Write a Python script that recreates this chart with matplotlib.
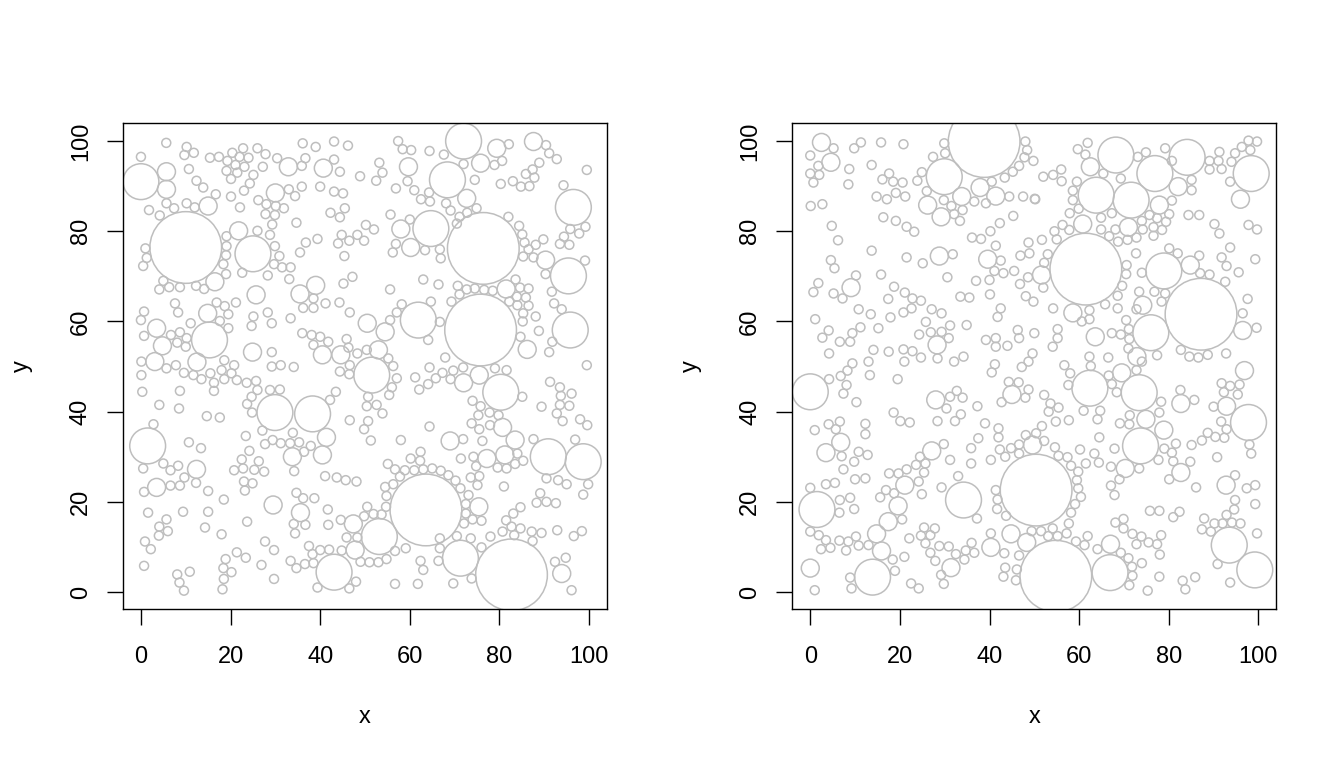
import numpy as np
import matplotlib.pyplot as plt

plt.rcParams["font.family"] = ["Liberation Sans", "DejaVu Sans"]

# circle centres, grouped by radius (data units)
left_r8 = [(10.0, 76.4), (76.4, 76.2), (75.8, 58.1), (63.6, 18.2), (82.7, 3.8)]

left_r4 = [(0.0, 91.0), (25.0, 75.0), (15.3, 55.9), (72.0, 100.0), (68.4, 91.4),
           (96.5, 85.3), (64.7, 80.6), (95.4, 70.1), (61.9, 60.3), (95.8, 58.1),
           (1.5, 32.4), (29.9, 39.8), (38.3, 39.5), (43.1, 4.4), (51.5, 48.1),
           (80.3, 44.3), (90.9, 30.0), (98.7, 28.9), (53.2, 12.3), (71.3, 7.5)]

left_r2 = [(5.7, 93.2), (5.7, 89.3), (15.0, 85.6), (30.0, 88.5), (32.9, 94.3),
           (40.7, 94.0), (21.8, 80.1), (16.5, 68.8), (25.7, 65.9), (39.0, 68.0),
           (35.5, 66.1), (50.5, 59.6), (14.9, 61.8), (3.5, 58.5), (4.8, 54.6),
           (3.1, 51.1), (12.5, 51.0), (24.9, 53.2), (44.6, 52.6), (40.5, 52.6),
           (79.4, 98.4), (87.6, 99.9), (75.8, 95.1), (59.7, 94.3), (72.7, 87.3),
           (58.0, 80.5), (60.2, 76.4), (90.3, 73.6), (81.5, 67.2), (54.5, 57.7),
           (53.0, 53.7), (86.2, 53.8), (3.5, 23.2), (12.4, 27.2), (41.4, 34.3),
           (40.5, 30.4), (33.8, 30.0), (29.5, 19.3), (35.6, 17.6), (47.8, 9.3),
           (47.4, 15.1), (72.0, 46.4), (75.5, 48.1), (80.7, 36.5), (83.5, 33.7),
           (81.2, 30.4), (77.2, 29.6), (69.0, 33.5), (75.4, 18.9), (93.9, 4.1)]

left_r1 = [
    (5.65, 99.6), (0.0, 96.5), (10.2, 98.7), (9.7, 96.9), (11.8, 97.4), (10.7, 93.8),
    (15.4, 96.3), (17.4, 96.5), (19.3, 95.6), (20.4, 97.4), (22.0, 96.5), (22.8, 98.4),
    (24.0, 96.3), (21.1, 94.7), (19.1, 93.4), (21.5, 93.0), (23.1, 94.3), (20.1, 91.6),
    (25.1, 92.5), (24.3, 90.6), (23.0, 89.0), (26.0, 98.4), (27.8, 97.1), (27.2, 94.3),
    (30.4, 96.2), (36.1, 99.5), (39.0, 98.7), (43.1, 99.9), (46.2, 99.0), (43.1, 95.9),
    (44.4, 93.2), (48.9, 92.2), (35.9, 94.5), (36.7, 96.2), (35.9, 89.9), (34.4, 87.8),
    (33.0, 89.3), (40.0, 89.9), (43.1, 88.8), (45.1, 88.4), (45.5, 85.1), (42.3, 84.1),
    (44.4, 83.1), (34.7, 81.9), (12.4, 91.2), (13.9, 89.7), (16.7, 88.2), (20.1, 87.7),
    (22.1, 85.3), (26.2, 86.9), (28.0, 86.0), (30.1, 85.6), (31.9, 85.1), (27.8, 83.8),
    (29.9, 83.6), (29.3, 81.5), (28.8, 79.2), (26.0, 80.1), (1.8, 84.7), (4.2, 83.5),
    (5.7, 86.2), (7.4, 85.1), (10.2, 86.2), (12.0, 85.3), (19.1, 78.9), (19.1, 76.7),
    (19.0, 74.7), (18.4, 72.7), (19.0, 70.5), (1.0, 76.2), (1.3, 74.1), (0.5, 72.3),
    (5.0, 69.0), (4.1, 67.1), (6.3, 67.6), (8.7, 67.6), (12.3, 67.9), (14.1, 67.2),
    (22.6, 70.8), (28.3, 70.2), (29.9, 76.7), (30.9, 74.5), (29.7, 72.7), (31.5, 72.0),
    (33.4, 72.0), (33.1, 69.4), (35.5, 75.3), (36.8, 77.5), (39.4, 78.3), (44.0, 77.3),
    (44.8, 79.2), (46.5, 77.9), (48.3, 79.2), (49.8, 77.9), (50.2, 81.4), (45.4, 74.5),
    (47.2, 69.9), (45.2, 68.4), (38.5, 65.1), (38.5, 63.0), (36.2, 63.0), (41.2, 64.0),
    (44.3, 64.2), (46.6, 62.0), (7.6, 64.0), (8.3, 62.0), (0.7, 62.2), (0.0, 60.3),
    (0.7, 56.8), (11.1, 59.6), (6.7, 57.0), (8.7, 57.6), (8.1, 55.3), (10.0, 54.4),
    (10.2, 56.3), (16.9, 64.2), (18.7, 63.4), (19.5, 61.6), (17.6, 60.1), (21.2, 64.2),
    (19.5, 58.5), (25.1, 61.1), (24.7, 59.0), (28.3, 62.0), (29.2, 59.6), (33.4, 60.7),
    (36.0, 57.4), (38.1, 57.0), (40.0, 56.6), (41.8, 55.5), (38.5, 54.8), (45.9, 56.1),
    (46.3, 54.2), (48.3, 52.9), (50.4, 53.7), (29.2, 53.2), (18.6, 51.4),
    (57.4, 100.0), (58.4, 98.2), (60.3, 98.0), (64.4, 97.8), (67.6, 97.0), (53.2, 95.2),
    (53.9, 93.0), (52.5, 91.2), (56.9, 89.5), (59.5, 91.1), (61.0, 89.1), (62.5, 87.1),
    (64.3, 88.6), (64.5, 86.6), (68.1, 86.2), (69.1, 84.6), (71.1, 83.2), (72.8, 84.1),
    (74.9, 85.1), (70.5, 81.7), (74.5, 91.4), (72.0, 94.9), (78.9, 94.7), (80.6, 95.6),
    (82.1, 99.3), (90.4, 99.1), (91.1, 97.3), (92.8, 96.0), (88.9, 95.2), (87.4, 93.7),
    (85.9, 92.7), (87.8, 91.9), (86.7, 90.0), (84.8, 89.9), (83.0, 91.1), (80.3, 90.5),
    (99.5, 93.6), (94.3, 90.2), (55.7, 83.7), (60.0, 82.6), (52.0, 80.4), (56.9, 77.2),
    (56.2, 75.3), (63.4, 75.8), (66.7, 76.0), (66.9, 74.0), (82.0, 83.2), (84.4, 81.2),
    (85.1, 79.3), (85.6, 77.5), (85.3, 74.4), (87.6, 74.2), (86.5, 76.0), (88.1, 77.0),
    (89.8, 78.2), (93.5, 77.2), (95.6, 77.0), (94.4, 78.8), (95.8, 80.5), (97.8, 79.5),
    (99.2, 81.0), (99.1, 73.5), (90.3, 70.5), (91.7, 66.6), (92.2, 64.0), (93.9, 62.7),
    (91.8, 55.5), (91.1, 53.2), (63.0, 69.3), (66.4, 68.2), (55.6, 67.1), (70.7, 67.9),
    (72.7, 67.1), (74.5, 67.3), (76.6, 67.0), (78.5, 66.8), (71.1, 66.0), (69.3, 64.4),
    (83.6, 69.3), (84.6, 67.5), (86.5, 67.3), (83.9, 65.5), (85.9, 65.3), (82.2, 64.4),
    (84.0, 63.6), (86.5, 63.5), (85.3, 61.8), (85.2, 60.0), (88.1, 61.1), (88.8, 57.9),
    (84.7, 56.6), (64.7, 64.4), (58.2, 63.8), (57.1, 62.0), (55.6, 60.3), (66.7, 59.9),
    (64.1, 55.9), (55.2, 51.8), (67.9, 52.0),
    (0.1, 51.1), (5.7, 49.6), (7.8, 50.3), (9.6, 48.6), (11.7, 48.1), (13.5, 47.2),
    (15.5, 48.5), (16.3, 46.4), (16.3, 44.6), (18.0, 49.2), (18.6, 47.2), (20.2, 48.5),
    (20.8, 50.3), (21.4, 47.0), (23.6, 46.4), (25.7, 46.8), (26.0, 44.8), (24.7, 43.3),
    (23.7, 41.7), (24.8, 39.8), (27.1, 35.8), (27.7, 32.8), (29.4, 33.7), (31.2, 33.0),
    (33.3, 33.0), (35.3, 33.2), (36.4, 31.1), (37.9, 32.4), (33.9, 35.3), (34.2, 26.8),
    (28.8, 44.8), (31.0, 44.9), (29.2, 50.0), (31.2, 50.3), (34.1, 49.9), (42.2, 42.6),
    (43.5, 44.4), (46.6, 38.1), (44.4, 48.9), (46.6, 50.3), (46.5, 48.3), (0.1, 48.1),
    (0.3, 44.4), (8.7, 44.6), (4.1, 41.5), (8.5, 40.7), (14.7, 39.0), (17.6, 38.7),
    (2.8, 37.2), (10.7, 33.2), (13.4, 31.9), (0.5, 27.4), (5.0, 28.5), (6.6, 27.0),
    (8.3, 28.0), (9.7, 25.4), (8.7, 23.6), (6.6, 23.6), (12.3, 24.2), (15.0, 22.4),
    (18.5, 20.5), (0.7, 22.2), (1.6, 17.6), (9.4, 17.8), (15.0, 17.8), (5.7, 16.1),
    (4.1, 14.5), (6.0, 13.5), (4.0, 12.5), (14.3, 14.3), (18.0, 12.8), (0.9, 11.2),
    (2.2, 9.5), (0.7, 5.8), (8.1, 3.9), (10.9, 4.5), (8.6, 2.1), (9.6, 0.3),
    (18.2, 0.6), (18.5, 2.9), (18.4, 5.3), (20.2, 4.4), (18.9, 7.3), (21.4, 8.8),
    (23.4, 7.6), (26.9, 6.0), (29.7, 2.9), (27.7, 11.2), (29.7, 9.3), (23.7, 15.6),
    (23.4, 34.6), (24.2, 31.3), (22.5, 29.4), (20.8, 27.0), (22.8, 27.4), (25.3, 27.1),
    (26.3, 29.0), (27.5, 26.7), (24.9, 24.1), (23.0, 24.5), (23.2, 22.5), (34.7, 22.0),
    (36.2, 20.8), (38.7, 20.8), (34.1, 15.1), (36.7, 14.9), (34.4, 13.0), (41.7, 18.3),
    (41.8, 14.9), (44.6, 16.0), (41.1, 25.7), (43.7, 25.4), (45.7, 24.8), (48.1, 24.5),
    (37.5, 10.2), (38.3, 8.4), (40.0, 9.3), (42.0, 9.4), (44.8, 9.2), (45.9, 12.1),
    (48.3, 12.1), (33.4, 6.9), (34.7, 5.3), (36.6, 6.2), (38.5, 6.4), (39.4, 1.0),
    (46.5, 0.8), (48.0, 2.3),
    (56.3, 50.1), (64.4, 49.8), (61.2, 47.6), (62.1, 44.9), (64.1, 46.1), (65.8, 47.4),
    (67.3, 48.6), (69.1, 47.2), (69.7, 49.1), (71.9, 49.8), (79.0, 49.6), (81.6, 49.2),
    (85.1, 43.3), (57.1, 47.4), (56.0, 45.4), (55.4, 43.7), (50.7, 43.3), (50.4, 41.2),
    (52.6, 41.5), (53.9, 39.6), (50.7, 37.9), (49.8, 36.1), (51.3, 33.6), (58.0, 33.7),
    (64.4, 36.7), (74.0, 42.4), (75.8, 41.2), (77.8, 39.8), (79.8, 39.2), (75.3, 39.2),
    (73.8, 37.4), (75.5, 36.1), (77.9, 37.0), (71.9, 33.9), (76.2, 33.5), (74.2, 30.0),
    (74.8, 27.9), (73.6, 25.4), (75.5, 25.7), (75.1, 23.7), (79.6, 27.6), (81.6, 27.4),
    (83.5, 28.4), (85.3, 29.1), (84.0, 30.7), (71.4, 29.6), (81.0, 23.4), (87.6, 33.9),
    (91.3, 46.6), (93.5, 45.4), (96.1, 44.0), (93.7, 43.5), (93.5, 41.5), (95.6, 41.3),
    (92.8, 39.6), (94.1, 37.9), (89.4, 41.1), (98.0, 38.3), (99.6, 37.0), (96.9, 33.8),
    (99.5, 50.3), (90.5, 25.2), (93.1, 24.8), (95.0, 23.9), (99.8, 23.9), (98.7, 21.6),
    (89.1, 21.9), (88.3, 19.8), (90.5, 20.0), (92.6, 19.7), (84.7, 18.8), (83.1, 17.4),
    (81.5, 15.9), (82.7, 14.5), (84.7, 14.1), (87.2, 13.4), (89.4, 13.1), (87.4, 11.3),
    (83.3, 12.6), (80.7, 13.4), (78.0, 12.3), (92.9, 13.7), (98.4, 13.5), (96.6, 12.4),
    (92.4, 6.7), (94.8, 7.6), (96.1, 0.4), (76.0, 9.9), (73.6, 11.9), (70.5, 12.4),
    (66.7, 9.7), (66.4, 6.9), (62.4, 6.9), (63.0, 4.9), (69.7, 1.9), (73.8, 3.0),
    (61.8, 1.8), (56.7, 1.8), (59.1, 9.7), (56.7, 9.1), (54.8, 7.3), (53.0, 6.6),
    (51.0, 6.6), (49.0, 6.7), (49.8, 16.8), (51.9, 17.3), (53.7, 17.2), (50.5, 18.9),
    (54.7, 18.9), (54.5, 23.3), (54.8, 21.3), (56.3, 23.9), (55.1, 28.4), (56.7, 27.2),
    (58.9, 27.0), (57.8, 25.6), (60.2, 29.6), (62.3, 29.1), (62.4, 31.1), (61.0, 27.0),
    (63.0, 27.2), (65.0, 27.4), (66.9, 26.9), (68.6, 25.9), (70.2, 24.7), (71.3, 23.0),
    (73.1, 21.5), (72.5, 19.5), (72.5, 17.4), (72.1, 15.2), (74.0, 16.1), (76.0, 15.8),
    (66.7, 11.9)]

right_r8 = [(38.8, 99.9), (61.5, 71.6), (87.2, 61.6), (50.4, 22.6), (54.8, 3.5)]

right_r4 = [(29.9, 92.1), (68.2, 96.9), (84.1, 96.4), (76.9, 92.8), (98.4, 92.8),
            (63.8, 88.0), (71.6, 86.9), (78.9, 71.2), (76.0, 57.5), (0.0, 44.4),
            (1.5, 18.3), (34.2, 20.4), (13.9, 3.3), (62.4, 45.2), (73.4, 44.2),
            (73.7, 32.4), (97.8, 37.6), (93.5, 10.4), (99.2, 4.9), (66.9, 4.3)]

right_r2 = [(2.5, 99.7), (4.6, 95.3), (26.2, 85.8), (29.2, 83.2), (33.8, 87.7),
            (37.9, 89.7), (41.4, 87.8), (9.1, 67.5), (28.8, 74.5), (39.6, 73.8),
            (28.3, 54.8), (51.6, 70.3), (62.5, 94.3), (82.1, 89.9), (77.9, 85.8),
            (71.0, 80.9), (60.8, 81.6), (96.0, 87.1), (84.8, 72.5), (74.2, 63.6),
            (58.6, 61.9), (63.6, 56.6), (72.9, 52.2), (96.5, 58.0), (28.0, 42.6),
            (6.8, 33.2), (3.5, 30.9), (27.1, 31.3), (21.1, 23.7), (19.6, 19.1),
            (17.4, 15.6), (14.8, 12.9), (15.9, 9.1), (0.0, 5.3), (31.4, 5.4),
            (40.3, 9.9), (44.8, 12.9), (48.3, 11.0), (45.0, 43.8), (49.6, 32.6),
            (96.9, 49.1), (69.5, 48.6), (82.7, 41.8), (92.9, 41.2), (74.9, 38.3),
            (78.9, 35.9), (70.3, 27.4), (82.7, 26.5), (92.8, 23.7), (67.0, 10.6)]

right_r1 = [
    (0.0, 96.8), (1.8, 94.5), (0.0, 92.8), (2.0, 92.5), (0.7, 90.8), (5.2, 98.4),
    (8.7, 93.8), (8.5, 90.4), (9.8, 98.4), (11.3, 99.7), (15.8, 99.7), (20.8, 99.3),
    (13.7, 94.7), (17.6, 92.8), (16.1, 91.5), (18.5, 91.0), (20.6, 90.8), (19.1, 88.5),
    (21.2, 87.7), (17.1, 87.1), (14.8, 87.7), (0.1, 85.6), (2.7, 86.0), (16.3, 83.1),
    (19.1, 82.3), (21.5, 81.0), (23.2, 79.9), (4.8, 81.2), (6.2, 78.0), (13.7, 75.7),
    (21.5, 74.2), (25.1, 72.9), (31.8, 74.9), (4.6, 73.6), (5.4, 71.8), (10.2, 70.2),
    (15.8, 70.4), (1.8, 68.5), (0.7, 66.5), (5.2, 66.2), (7.2, 65.1), (18.7, 67.7),
    (21.1, 66.4), (22.8, 65.1), (24.7, 64.6), (22.6, 62.9), (20.8, 62.0), (17.4, 65.0),
    (10.8, 62.7), (13.5, 61.6), (17.9, 60.9), (1.1, 60.5), (4.1, 58.0), (2.7, 56.4),
    (6.6, 55.5), (8.9, 55.5), (9.4, 57.4), (11.2, 58.7), (15.2, 58.5), (4.2, 52.9),
    (14.1, 53.7), (17.5, 53.3), (20.8, 53.8), (22.8, 53.4), (24.7, 52.0), (27.1, 62.7),
    (29.3, 61.8), (25.8, 59.9), (24.3, 57.1), (26.9, 57.6), (29.3, 57.7), (31.2, 59.1),
    (30.9, 56.3), (28.4, 51.8), (34.2, 52.2), (34.9, 59.2), (33.5, 65.5), (35.5, 65.3),
    (30.6, 69.8), (37.0, 69.0), (40.0, 69.2), (40.1, 66.0), (42.5, 62.9), (41.8, 61.0),
    (41.1, 71.2), (43.1, 70.7), (42.5, 73.5), (41.4, 76.8), (45.5, 71.2), (46.8, 68.3),
    (48.6, 69.8), (48.1, 65.6), (49.8, 64.4), (46.9, 74.6), (48.9, 75.1), (48.7, 77.5),
    (36.1, 78.6), (38.1, 78.3), (40.2, 80.0), (42.3, 81.8), (45.3, 83.4), (47.5, 87.7),
    (50.1, 87.2), (44.4, 87.7), (39.2, 86.2), (36.6, 86.6), (29.8, 86.9), (31.5, 85.6),
    (32.1, 83.8), (34.0, 84.7), (33.4, 82.3), (26.0, 88.9), (23.9, 91.2), (24.9, 93.1),
    (27.4, 96.5), (30.1, 97.3), (29.9, 99.5), (40.5, 91.0), (43.4, 91.9), (45.2, 93.2),
    (46.6, 94.5), (47.8, 96.4), (48.4, 98.0), (48.0, 99.9), (49.8, 95.6), (39.2, 55.9),
    (41.4, 56.3), (41.4, 54.4), (44.0, 54.6), (46.3, 58.1), (46.6, 56.3), (50.0, 57.4),
    (49.6, 52.9),
    (52.0, 92.1), (54.2, 92.5), (56.0, 93.7), (56.1, 91.1), (50.2, 87.1), (59.7, 98.2),
    (61.9, 99.6), (61.4, 97.0), (65.4, 92.8), (69.3, 91.7), (73.1, 96.5), (74.9, 97.5),
    (79.2, 98.4), (80.7, 95.6), (85.1, 91.4), (85.1, 89.1), (89.1, 95.6), (89.1, 93.7),
    (91.3, 97.6), (91.1, 95.6), (91.8, 93.8), (94.0, 95.4), (94.8, 97.3), (96.3, 98.7),
    (97.8, 100.1), (99.7, 99.9), (98.2, 98.0), (93.7, 91.0), (59.5, 91.0), (58.6, 89.0),
    (58.6, 86.9), (59.9, 85.0), (57.9, 84.0), (64.9, 83.0), (67.3, 84.0), (64.9, 80.4),
    (66.7, 78.9), (68.1, 80.4), (68.7, 77.7), (70.8, 78.1), (72.8, 78.6), (74.2, 80.4),
    (74.0, 82.3), (75.7, 83.6), (77.4, 82.9), (79.4, 82.1), (80.1, 83.8), (80.7, 86.8),
    (76.6, 80.9), (78.5, 80.3), (76.6, 79.0), (84.4, 83.6), (86.8, 83.6), (90.2, 81.6),
    (91.3, 79.5), (97.8, 81.4), (99.7, 80.4), (56.3, 81.4), (54.5, 80.0), (57.8, 80.3),
    (55.0, 78.2), (51.7, 78.1), (53.0, 74.9), (52.2, 73.0), (52.0, 67.5), (70.6, 72.5),
    (70.5, 70.5), (69.6, 67.9), (68.6, 65.7), (65.8, 63.8), (68.6, 62.9), (62.3, 62.5),
    (62.3, 60.5), (60.6, 60.0), (54.2, 62.9), (72.7, 75.1), (74.0, 70.8), (80.1, 76.2),
    (82.0, 75.1), (86.8, 74.6), (87.0, 70.7), (89.1, 70.4), (91.8, 74.2), (92.9, 72.3),
    (93.7, 76.4), (95.6, 70.9), (99.3, 73.8), (92.6, 68.8), (97.6, 65.0), (96.5, 61.8),
    (99.6, 58.6), (73.4, 66.6), (76.8, 66.6), (79.2, 66.2), (78.4, 64.4), (72.8, 62.7),
    (70.5, 60.3), (71.1, 58.3), (69.3, 57.1), (67.3, 57.4), (71.2, 56.1), (71.0, 54.0),
    (55.2, 58.3), (55.2, 56.3), (54.1, 54.4), (62.3, 52.2), (66.5, 52.0), (77.4, 52.5),
    (82.7, 53.7), (84.6, 52.2), (86.6, 52.0), (88.7, 52.6), (92.8, 52.9),
    (9.4, 50.7), (13.0, 51.1), (21.0, 51.1), (32.1, 51.1), (41.2, 50.5), (40.5, 48.7),
    (47.2, 49.9), (48.7, 51.1), (8.3, 49.1), (6.8, 47.9), (4.2, 47.2), (8.1, 45.9),
    (7.4, 44.0), (13.3, 48.1), (19.5, 47.2), (10.3, 42.1), (31.2, 43.3), (32.7, 44.6),
    (34.0, 43.1), (30.4, 40.7), (33.6, 39.4), (32.3, 37.9), (37.3, 41.2), (28.4, 37.9),
    (18.6, 39.8), (20.1, 37.9), (22.2, 37.6), (44.3, 46.6), (46.5, 46.5), (48.7, 44.9),
    (48.0, 43.1), (42.7, 42.1), (1.0, 35.9), (4.1, 37.2), (6.6, 37.8), (5.7, 36.1),
    (12.3, 37.3), (12.3, 35.0), (10.8, 31.1), (12.8, 30.4), (9.8, 28.9), (7.0, 30.1),
    (7.4, 27.2), (10.0, 25.0), (12.3, 25.2), (3.5, 23.9), (5.5, 24.2), (0.0, 23.1),
    (6.6, 20.4), (8.9, 20.9), (6.5, 17.6), (9.8, 18.4), (17.6, 26.3), (19.7, 26.3),
    (21.5, 27.2), (23.6, 28.2), (25.7, 28.5), (25.4, 26.5), (24.5, 30.0), (24.2, 24.5),
    (24.9, 21.7), (16.9, 22.6), (15.6, 21.0), (18.7, 21.9), (20.5, 16.1), (29.8, 32.8),
    (31.2, 29.3), (35.9, 31.9), (35.9, 28.5), (37.5, 34.1), (39.0, 37.4), (42.0, 36.3),
    (42.0, 34.3), (40.3, 29.3), (42.3, 31.6), (43.5, 30.0), (44.8, 31.9), (46.6, 32.7),
    (46.6, 30.7), (48.1, 34.8), (50.4, 35.2), (33.0, 25.7), (29.3, 23.2), (37.2, 16.3),
    (41.4, 22.6), (41.8, 20.5), (41.7, 18.4), (43.7, 16.9), (40.3, 13.0), (43.3, 8.6),
    (46.6, 8.1), (49.4, 13.5), (43.5, 5.4), (43.1, 3.4), (46.1, 5.0), (45.9, 2.6),
    (0.0, 13.4), (1.9, 12.6), (3.5, 11.5), (2.4, 9.5), (4.5, 9.8), (6.5, 11.4),
    (8.5, 11.2), (8.0, 9.2), (10.2, 12.3), (10.8, 10.3), (13.0, 10.4), (18.4, 7.2),
    (18.9, 4.7), (21.0, 7.8), (22.1, 11.9), (8.9, 3.2), (9.2, 0.8), (1.0, 0.4),
    (22.5, 1.9), (24.2, 0.8), (25.4, 14.3), (27.8, 14.1), (24.7, 12.5), (26.8, 12.6),
    (25.7, 10.8), (26.8, 8.7), (28.8, 10.2), (30.9, 10.1), (27.9, 6.9), (32.5, 8.4),
    (34.4, 7.2), (34.7, 9.2), (36.6, 8.7), (36.0, 10.9), (29.2, 3.8), (29.8, 1.8),
    (56.7, 50.3), (58.0, 48.5), (57.6, 45.9), (62.6, 50.1), (66.6, 48.0), (67.3, 46.1),
    (68.4, 44.3), (72.8, 49.2), (74.0, 51.1), (61.0, 40.2), (64.7, 40.2), (64.1, 38.3),
    (52.2, 43.7), (53.6, 41.8), (55.4, 40.9), (53.2, 40.0), (54.8, 37.8), (57.7, 38.1),
    (51.7, 36.8), (52.2, 33.5), (54.6, 32.1), (55.4, 30.2), (57.4, 29.9), (58.2, 28.0),
    (59.8, 26.7), (59.5, 24.8), (59.8, 23.0), (60.4, 21.1), (59.1, 19.5), (58.2, 17.6),
    (57.7, 15.2), (57.2, 13.0), (55.2, 12.4), (53.1, 12.4), (51.5, 13.5), (54.1, 14.1),
    (59.3, 11.2), (61.2, 10.4), (61.9, 12.4), (60.2, 31.6), (61.5, 28.5), (63.4, 30.7),
    (64.4, 28.7), (64.5, 34.3), (67.9, 31.8), (67.1, 27.8), (69.0, 25.0), (67.1, 23.6),
    (67.9, 21.5), (73.4, 27.4), (77.7, 29.3), (79.0, 31.8), (77.9, 39.8), (78.3, 42.2),
    (71.3, 39.2), (71.2, 37.2), (69.1, 37.4), (80.7, 30.9), (81.6, 32.9), (81.0, 29.0),
    (80.1, 25.0), (84.8, 28.9), (85.1, 32.6), (86.1, 23.2), (82.6, 44.8), (85.7, 42.6),
    (90.0, 41.1), (91.8, 46.3), (93.7, 45.7), (95.8, 46.0), (92.3, 44.3), (95.4, 43.8),
    (91.7, 37.8), (92.9, 36.1), (92.4, 34.2), (90.4, 34.4), (88.7, 35.3), (87.4, 33.6),
    (90.8, 29.9), (98.0, 32.7), (98.4, 30.7), (94.8, 25.9), (97.4, 23.0), (99.3, 23.7),
    (99.3, 19.5), (94.8, 20.4), (94.6, 18.3), (92.9, 17.1), (94.1, 15.4), (96.0, 15.2),
    (92.0, 15.2), (90.2, 15.2), (87.9, 16.3), (87.4, 13.9), (89.4, 13.4), (99.7, 13.0),
    (90.9, 6.2), (93.7, 2.1), (75.8, 18.0), (77.9, 18.0), (81.0, 16.6), (82.4, 17.8),
    (68.1, 15.4), (69.9, 16.2), (69.9, 14.1), (71.9, 12.9), (73.9, 12.3), (72.8, 10.6),
    (75.5, 11.0), (77.4, 10.6), (78.3, 12.6), (78.0, 8.3), (74.0, 6.4), (77.9, 3.4),
    (75.3, 0.3), (64.1, 9.5), (69.3, 8.7), (71.0, 7.5), (71.8, 5.6), (71.9, 3.6),
    (71.2, 1.5), (83.1, 2.5), (83.7, 0.6), (85.9, 3.3)]

ticks = [0, 20, 40, 60, 80, 100]
circle_color = "#BEBEBE"

DPI = 100
XLIM = (-4.0, 103.95)
YLIM = (-3.84, 104.06)
AX_W = 0.361

fig = plt.figure(figsize=(13.4, 7.63), dpi=DPI)
ax_left = fig.add_axes([0.0918, 0.2014, AX_W, 0.6377])
ax_right = fig.add_axes([0.5913, 0.2014, AX_W, 0.6377])

# pixels per data unit along x, to turn radii into marker sizes
px_per_unit = AX_W * 13.4 * DPI / (XLIM[1] - XLIM[0])

panels = [
    (ax_left, [(left_r8, 8), (left_r4, 4), (left_r2, 2), (left_r1, 1)]),
    (ax_right, [(right_r8, 8), (right_r4, 4), (right_r2, 2), (right_r1, 1)]),
]

for ax, groups in panels:
    for pts, r in groups:
        xy = np.array(pts)
        diam_pt = 2 * r * px_per_unit * 72.0 / DPI
        ax.scatter(xy[:, 0], xy[:, 1], s=diam_pt ** 2, facecolors="none",
                   edgecolors=circle_color, linewidths=1.1)

    ax.set_xlim(*XLIM)
    ax.set_ylim(*YLIM)
    ax.set_xticks(ticks)
    ax.set_yticks(ticks)
    ax.tick_params(direction="out", length=11.5, width=1.0, labelsize=17)
    ax.tick_params(axis="x", pad=15)
    ax.tick_params(axis="y", pad=11, labelrotation=90)
    for lbl in ax.get_yticklabels():
        lbl.set_va("center")
    for sp in ax.spines.values():
        sp.set_linewidth(1.0)

    ax.set_xlabel("x", fontsize=17, va="center")
    ax.xaxis.set_label_coords(0.5, -0.221)
    ax.set_ylabel("y", fontsize=17, va="center")
    ax.yaxis.set_label_coords(-0.209, 0.5)

fig.savefig("out.png", dpi=DPI)
